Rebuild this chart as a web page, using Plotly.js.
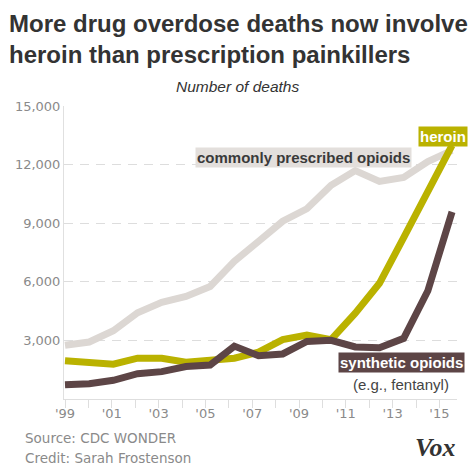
<!DOCTYPE html>
<html>
<head>
<meta charset="utf-8">
<script src="https://cdn.plot.ly/plotly-3.0.1.min.js"></script>
<style>html,body{margin:0;padding:0;background:#fff;}#chart{width:474px;height:474px;}</style>
</head>
<body>
<div id="chart"></div>
<script>
// Data
const years = [1999,2000,2001,2002,2003,2004,2005,2006,2007,2008,2009,2010,2011,2012,2013,2014,2015];
const prescribed = [2749,2917,3497,4416,4950,5250,5760,7050,8070,9100,9740,10943,11693,11140,11346,12159,12727];
const heroin = [1960,1842,1779,2089,2080,1878,2009,2088,2399,3041,3278,3036,4397,5925,8257,10574,12989];
const synthetic = [730,782,957,1295,1400,1664,1742,2707,2213,2306,2946,3007,2666,2628,3105,5544,9580];
const yTickVals = [3000,6000,9000,12000,15000];
const yTickText = ["3,000","6,000","9,000","12,000","15,000"];
const xTickVals = years;
const xTickText = years.map(y => (y % 2 === 1) ? "'" + String(y).slice(2) : "");

const tickFont = {family: "DejaVu Sans", size: 13, color: "#8a8a8a"};

const traces = [
  {x: years, y: prescribed, mode: "lines", line: {color: "#dcd7d3", width: 7}, hoverinfo: "skip"},
  {x: years, y: heroin, mode: "lines", line: {color: "#bab200", width: 7}, hoverinfo: "skip"},
  {x: years, y: synthetic, mode: "lines", line: {color: "#5d4546", width: 7}, hoverinfo: "skip"},
  {x: [2005], y: [0], xaxis: "x2", mode: "markers", marker: {opacity: 0}, hoverinfo: "skip"}
];

function pa(px) { return (px - 64) / 393; }
function pb(py) { return (399 - py) / 293; }

const layout = {
  width: 474, height: 474,
  margin: {l: 64, r: 17, t: 106, b: 75},
  paper_bgcolor: "#fff", plot_bgcolor: "#fff",
  showlegend: false, hovermode: false,
  title: {
    text: "More drug overdose deaths now involve<br>heroin than prescription painkillers",
    font: {family: "Liberation Sans", size: 24, color: "#333", weight: 700},
    xref: "container", yref: "container", x: 9/474, xanchor: "left",
    y: 1 - 32/474, yanchor: "top"
  },
  xaxis: {
    range: [1998.959, 2015.205], showticklabels: false, ticks: "", showgrid: false,
    showline: false, zeroline: false, fixedrange: true
  },
  xaxis2: {
    overlaying: "x", anchor: "y", side: "bottom",
    range: [1998.957, 2015.752], tickvals: xTickVals, ticktext: xTickText,
    tickfont: tickFont, ticks: "outside", ticklen: 8, tickcolor: "#dedede",
    ticklabelstandoff: -6,
    showline: true, linecolor: "#dedede", linewidth: 1, showgrid: false, zeroline: false
  },
  yaxis: {
    range: [0, 15000], tickvals: yTickVals, ticktext: yTickText, tickfont: tickFont,
    showgrid: true, gridcolor: "#dddddd", griddash: "9px,7px", gridwidth: 1,
    showline: true, linecolor: "#e0e0e0", zeroline: false, ticks: ""
  },
  annotations: [
    {text: "Number of deaths", xref: "paper", yref: "paper", x: pa(237), y: pb(86),
     xanchor: "center", yanchor: "middle",
     showarrow: false, font: {family: "Liberation Sans", size: 15.5, color: "#333", style: "italic"}},
    {text: "<b>commonly prescribed opioids</b>", x: 2008.86, y: 12370, xanchor: "center", yanchor: "middle", showarrow: false,
     bgcolor: "#e3dfdc", borderpad: 1, font: {family: "Liberation Sans", size: 15, color: "#3a3a3a"}},
    {text: "<b>heroin</b>", x: 2014.63, y: 13464, xanchor: "center", yanchor: "middle", showarrow: false,
     bgcolor: "#bab200", borderpad: 1, font: {family: "Liberation Sans", size: 15, color: "#fff"}},
    {text: "<b>synthetic opioids</b>", x: 2012.93, y: 1862, xanchor: "center", yanchor: "middle", showarrow: false,
     bgcolor: "#5d4546", borderpad: 1, font: {family: "Liberation Sans", size: 15, color: "#fff"}},
    {text: "(e.g., fentanyl)", x: 2012.90, y: 765, xanchor: "center", yanchor: "middle", showarrow: false,
     font: {family: "Liberation Sans", size: 15, color: "#444"}},
    {text: "Source: CDC WONDER", xref: "paper", yref: "paper", x: pa(23), xanchor: "left",
     y: pb(438), yanchor: "middle", showarrow: false, font: {family: "DejaVu Sans", size: 13.5, color: "#8a8a8a"}},
    {text: "Credit: Sarah Frostenson", xref: "paper", yref: "paper", x: pa(23), xanchor: "left",
     y: pb(458), yanchor: "middle", showarrow: false, font: {family: "DejaVu Sans", size: 13.5, color: "#8a8a8a"}},
    {text: "<b><i>Vox</i></b>", xref: "paper", yref: "paper", x: pa(434.5), y: pb(447),
     xanchor: "center", yanchor: "middle",
     showarrow: false, font: {family: "Liberation Serif", size: 26, color: "#333"}}
  ]
};

Plotly.newPlot("chart", traces, layout, {staticPlot: true, displayModeBar: false});
</script>
</body>
</html>
